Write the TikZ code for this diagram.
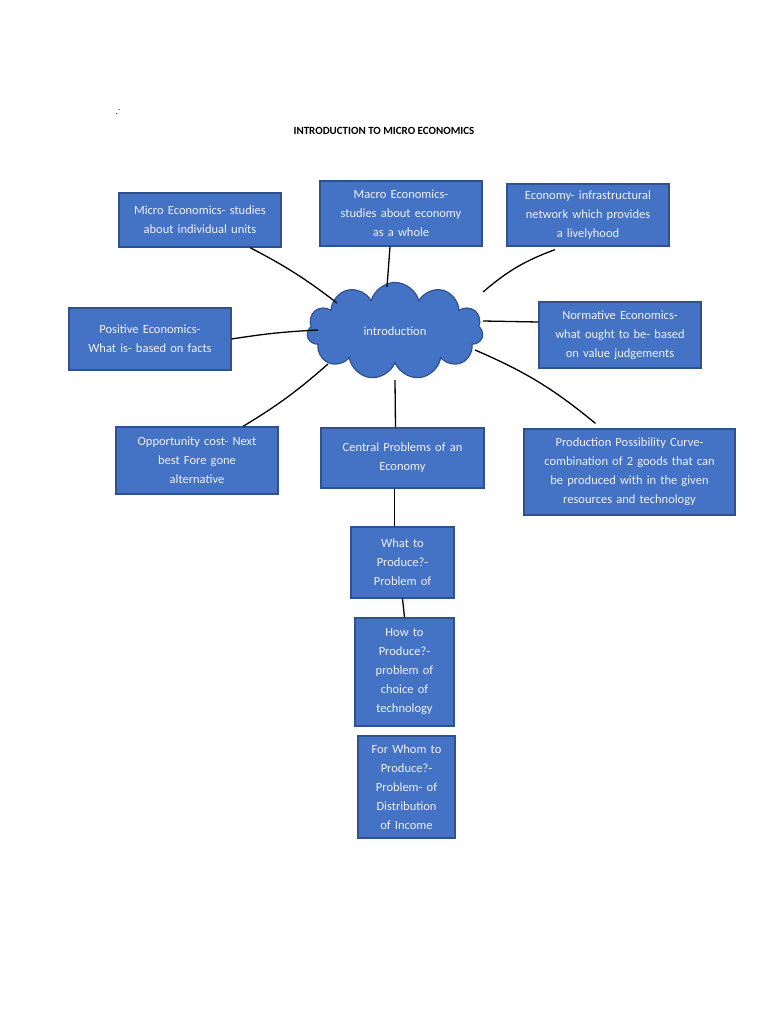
\documentclass[tikz,border=0pt]{standalone}
\usepackage{fontspec}
\setmainfont{Carlito}
\usetikzlibrary{shapes.symbols,calc}
\definecolor{bfill}{HTML}{4472C4}
\definecolor{bdraw}{HTML}{2F528F}
\definecolor{btext}{HTML}{F2F2F2}
\begin{document}
\begin{tikzpicture}[x=1pt,y=-1pt,
  box/.style={draw=bdraw,line width=1.2pt,fill=bfill,text=btext,align=center,inner sep=2pt,
    font=\fontsize{12.5}{19}\selectfont},
  link/.style={draw=black,line width=1.3pt}]
\useasboundingbox[fill=white] (0,0) rectangle (768,1024);
\node[font=\bfseries\fontsize{11}{13}\selectfont] (title) at (384,131) {INTRODUCTION TO MICRO ECONOMICS};
\node[font=\fontsize{9}{9}\selectfont] (dot) at (118,112) {.\raisebox{4pt}{.}};
\node[box,minimum width=162,minimum height=54,text width=156] (micro) at (200,220) {Micro Economics- studies\\about individual units};
\node[box,minimum width=162,minimum height=65,text width=156] (macro) at (401,213.5) {Macro Economics-\\studies about economy\\as a whole};
\node[box,minimum width=162,minimum height=62,text width=156] (econ) at (588,215) {Economy- infrastructural\\network which provides\\a livelyhood};
\node[box,minimum width=162,minimum height=62,text width=156] (pos) at (150,339) {Positive Economics-\\What is- based on facts};
\node[box,minimum width=162,minimum height=66,text width=156] (norm) at (620,335) {Normative Economics-\\what ought to be- based\\on value judgements};
\node[box,minimum width=162,minimum height=67,text width=156] (opp) at (197,460.5) {Opportunity cost- Next\\best Fore gone\\alternative};
\node[box,minimum width=163,minimum height=60,text width=157] (cent) at (402.5,458) {Central Problems of an\\Economy};
\node[box,minimum width=211,minimum height=86,text width=205] (ppc) at (629.5,472) {Production Possibility Curve-\\combination of 2 goods that can\\be produced with in the given\\resources and technology};
\node[box,minimum width=103,minimum height=71,text width=97] (what) at (402.5,562.5) {What to\\Produce?-\\Problem of};
\node[box,minimum width=99,minimum height=108,text width=93] (how) at (404.5,672) {How to\\Produce?-\\problem of\\choice of\\technology};
\node[box,minimum width=97,minimum height=102,text width=91] (whom) at (406.5,787) {For Whom to\\Produce?-\\Problem- of\\Distribution\\of Income};
\node[cloud,cloud puffs=11,aspect=1.8,draw=bdraw,line width=1.2pt,fill=bfill,text=btext,
  minimum width=176,minimum height=97,font=\fontsize{12.5}{15}\selectfont] (cloud) at (395,331) {introduction};
\coordinate (c1) at (337,303);
\coordinate (c2) at (387,287);
\coordinate (c3) at (483,292);
\coordinate (c4) at (318,330);
\coordinate (c5) at (483,321);
\coordinate (c6) at (328,364);
\coordinate (c7) at (395,380);
\coordinate (c8) at (475,350);
\draw[link] ($(micro.south)+(50,0)$) to[bend left=5] (c1);
\draw[link] ($(macro.south)+(-11,0)$) -- (c2);
\draw[link] ($(econ.south)+(-33,3)$) to[bend right=10] (c3);
\draw[link] (pos.east) to[bend left=3] (c4);
\draw[link] ($(norm.west)+(0,-13)$) -- (c5);
\draw[link] ($(opp.north)+(46,0)$) to[bend right=5] (c6);
\draw[link] ($(cent.north)+(-7,0)$) -- (c7);
\draw[link] ($(ppc.north)+(-34,-5)$) to[bend right=8] (c8);
\draw[link] ($(cent.south)+(-8,0)$) -- ($(what.north)+(-8,0)$);
\draw[link] (what.south) -- (how.north);
\end{tikzpicture}
\end{document}
